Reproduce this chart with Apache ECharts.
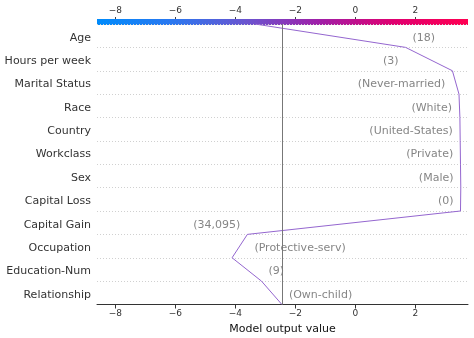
<!DOCTYPE html>
<html><head><meta charset="utf-8">
<script src="https://cdn.jsdelivr.net/npm/echarts@6/dist/echarts.min.js"></script>
<style>html,body{margin:0;padding:0;background:#fff}#c{width:474px;height:338px}</style>
</head><body><div id="c"></div>
<script>
// Features listed bottom to top
const features = ['Relationship','Education-Num','Occupation','Capital Gain','Capital Loss','Sex','Workclass','Country','Race','Marital Status','Hours per week','Age'];
const featureValues = ['(Own-child)','(9)','(Protective-serv)','(34,095)','(0)','(Male)','(Private)','(United-States)','(White)','(Never-married)','(3)','(18)'];
const shapValues = [-0.68,-0.98,0.51,7.10,0.01,-0.01,-0.01,-0.01,-0.03,-0.22,-1.56,-5.02];
const baseValue = -2.45;
const xTicks = [-8,-6,-4,-2,0,2];
const xMin = -8.61, xMax = 3.75;

const FONT = '"DejaVu Sans", "Liberation Sans", sans-serif';
const cum = [baseValue];
shapValues.forEach((v,i)=>cum.push(cum[i]+v));
const lineData = cum.map((v,i)=>[v,i]);

const chart = echarts.init(document.getElementById('c'), null, {renderer:'canvas'});
const gridL = 97, gridR = 6, gridT = 24, gridB = 33.5;
const W = 474;

function fmt(v){ return String(v).replace('-', '\u2212'); }

const option = {
  animation:false,
  textStyle:{fontFamily:FONT},
  grid:{left:gridL, right:gridR, top:gridT, bottom:gridB, containLabel:false, outerBoundsMode:'none'},
  graphic:[{
    type:'rect', z:-1,
    shape:{x:gridL, y:19, width:W-gridL-gridR, height:6},
    style:{fill:new echarts.graphic.LinearGradient(0,0,1,0,[
      {offset:0,color:'#008bfb'},
      {offset:0.2,color:'#2a78f0'},
      {offset:0.4,color:'#6a55d0'},
      {offset:0.6,color:'#a01fa8'},
      {offset:0.8,color:'#e00070'},
      {offset:1,color:'#ff0052'}
    ])}
  }],
  xAxis:[{
    type:'value', min:xMin, max:xMax, position:'bottom',
    axisLine:{show:true, lineStyle:{color:'#333', width:1}},
    axisTick:{show:true, customValues:xTicks, length:4, lineStyle:{color:'#333'}},
    axisLabel:{customValues:xTicks, formatter:fmt, fontSize:9, color:'#333', margin:5, fontFamily:FONT},
    splitLine:{show:false},
    name:'Model output value', nameLocation:'middle', nameGap:16,
    nameTextStyle:{fontSize:11, color:'#111', fontFamily:FONT}
  },{
    type:'value', min:xMin, max:xMax, position:'top', offset:5,
    axisLine:{show:false},
    axisTick:{show:true, inside:false, customValues:xTicks, length:2, lineStyle:{color:'#444'}},
    axisLabel:{customValues:xTicks, formatter:fmt, fontSize:9, color:'#333', margin:4, fontFamily:FONT},
    splitLine:{show:false}
  }],
  yAxis:[{
    type:'value', min:0, max:12, interval:1,
    axisLine:{show:false}, axisTick:{show:false}, axisLabel:{show:false},
    splitLine:{show:true, lineStyle:{color:'#d0d0d0', type:[1,2], width:1}}
  },{
    type:'category', data:features, position:'left',
    axisLine:{show:false}, axisTick:{show:false},
    axisLabel:{fontSize:11, color:'#333', margin:6, fontFamily:FONT,
      formatter:v=>'{f|'+v+'}',
      rich:{f:{fontSize:11, color:'#333', fontFamily:FONT, padding:[4,0,0,0]}}},
    splitLine:{show:false}
  }],
  series:[{
    type:'line', xAxisIndex:0, yAxisIndex:0, data:lineData, symbol:'none',
    lineStyle:{color:'#9466cf', width:1}, z:3,
    markLine:{silent:true, symbol:'none', label:{show:false},
      lineStyle:{color:'#777', width:1, type:'solid'},
      data:[{xAxis:baseValue}]}
  }]
};
chart.setOption(option);

const ctx = document.createElement('canvas').getContext('2d');
ctx.font = '11px ' + FONT;
const labelData = featureValues.map((t,i)=>{
  const hi = Math.max(cum[i],cum[i+1]), lo = Math.min(cum[i],cum[i+1]);
  const px = chart.convertToPixel({xAxisIndex:0}, hi);
  const w = ctx.measureText(t).width;
  if (px + 7 + w > W) {
    return {name:t, value:[lo, i+0.5], label:{position:'left'}};
  }
  return {name:t, value:[hi, i+0.5], label:{position:'right'}};
});
chart.setOption({series:[option.series[0],{
  type:'scatter', xAxisIndex:0, yAxisIndex:0, symbolSize:0, silent:true,
  data:labelData,
  label:{show:true, distance:7, offset:[0,2], formatter:p=>p.name, fontSize:11, color:'#666', fontFamily:FONT}
}]});
</script></body></html>
